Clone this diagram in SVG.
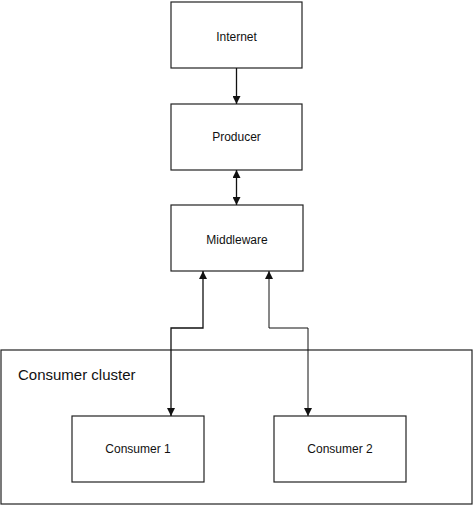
<svg xmlns="http://www.w3.org/2000/svg" width="474" height="528" viewBox="0 0 474 528">
<style>
.box{fill:#fff;stroke:#222;stroke-width:1.2}
.lbl{font-family:"Liberation Sans",Arial,sans-serif;font-size:12px;fill:#111;text-anchor:middle;dominant-baseline:central}
.con{fill:none;stroke:#111;stroke-width:1.3}
</style>
<defs>
<marker id="ah" viewBox="0 0 10 10" refX="10" refY="5" markerWidth="8" markerHeight="8" markerUnits="userSpaceOnUse" orient="auto-start-reverse">
<path d="M0,0 L10,5 L0,10 z" fill="#111"/>
</marker>
</defs>
<rect width="474" height="528" fill="#fff"/>
<g id="cluster">
<rect x="1" y="350" width="471" height="154" fill="#fff" stroke="#222" stroke-width="1.2"/>
<text x="18" y="374" font-family="Liberation Sans,Arial,sans-serif" font-size="15" fill="#111" dominant-baseline="central">Consumer cluster</text>
</g>
<g id="internet">
<rect class="box" x="171" y="2" width="131" height="66"/>
<text class="lbl" x="236.5" y="37">Internet</text>
</g>
<g id="producer">
<rect class="box" x="171" y="104" width="131" height="66"/>
<text class="lbl" x="236.5" y="137">Producer</text>
</g>
<g id="middleware">
<rect class="box" x="171" y="205" width="132" height="66"/>
<text class="lbl" x="237" y="240">Middleware</text>
</g>
<g id="consumer1">
<rect class="box" x="72" y="416" width="132" height="66"/>
<text class="lbl" x="138" y="449">Consumer 1</text>
</g>
<g id="consumer2">
<rect class="box" x="274" y="416" width="132" height="66"/>
<text class="lbl" x="340" y="449">Consumer 2</text>
</g>
<g id="connectors">
<path class="con" d="M236.5,68 L236.5,104" marker-end="url(#ah)"/>
<path class="con" d="M236.5,170 L236.5,205" marker-start="url(#ah)" marker-end="url(#ah)"/>
<path class="con" d="M203,271 L203,328 L171,328 L171,416" marker-start="url(#ah)" marker-end="url(#ah)"/>
<path class="con" style="stroke-width:1" d="M269,271 L269,328 L308,328 L308,416" marker-start="url(#ah)" marker-end="url(#ah)"/>
</g>
</svg>
